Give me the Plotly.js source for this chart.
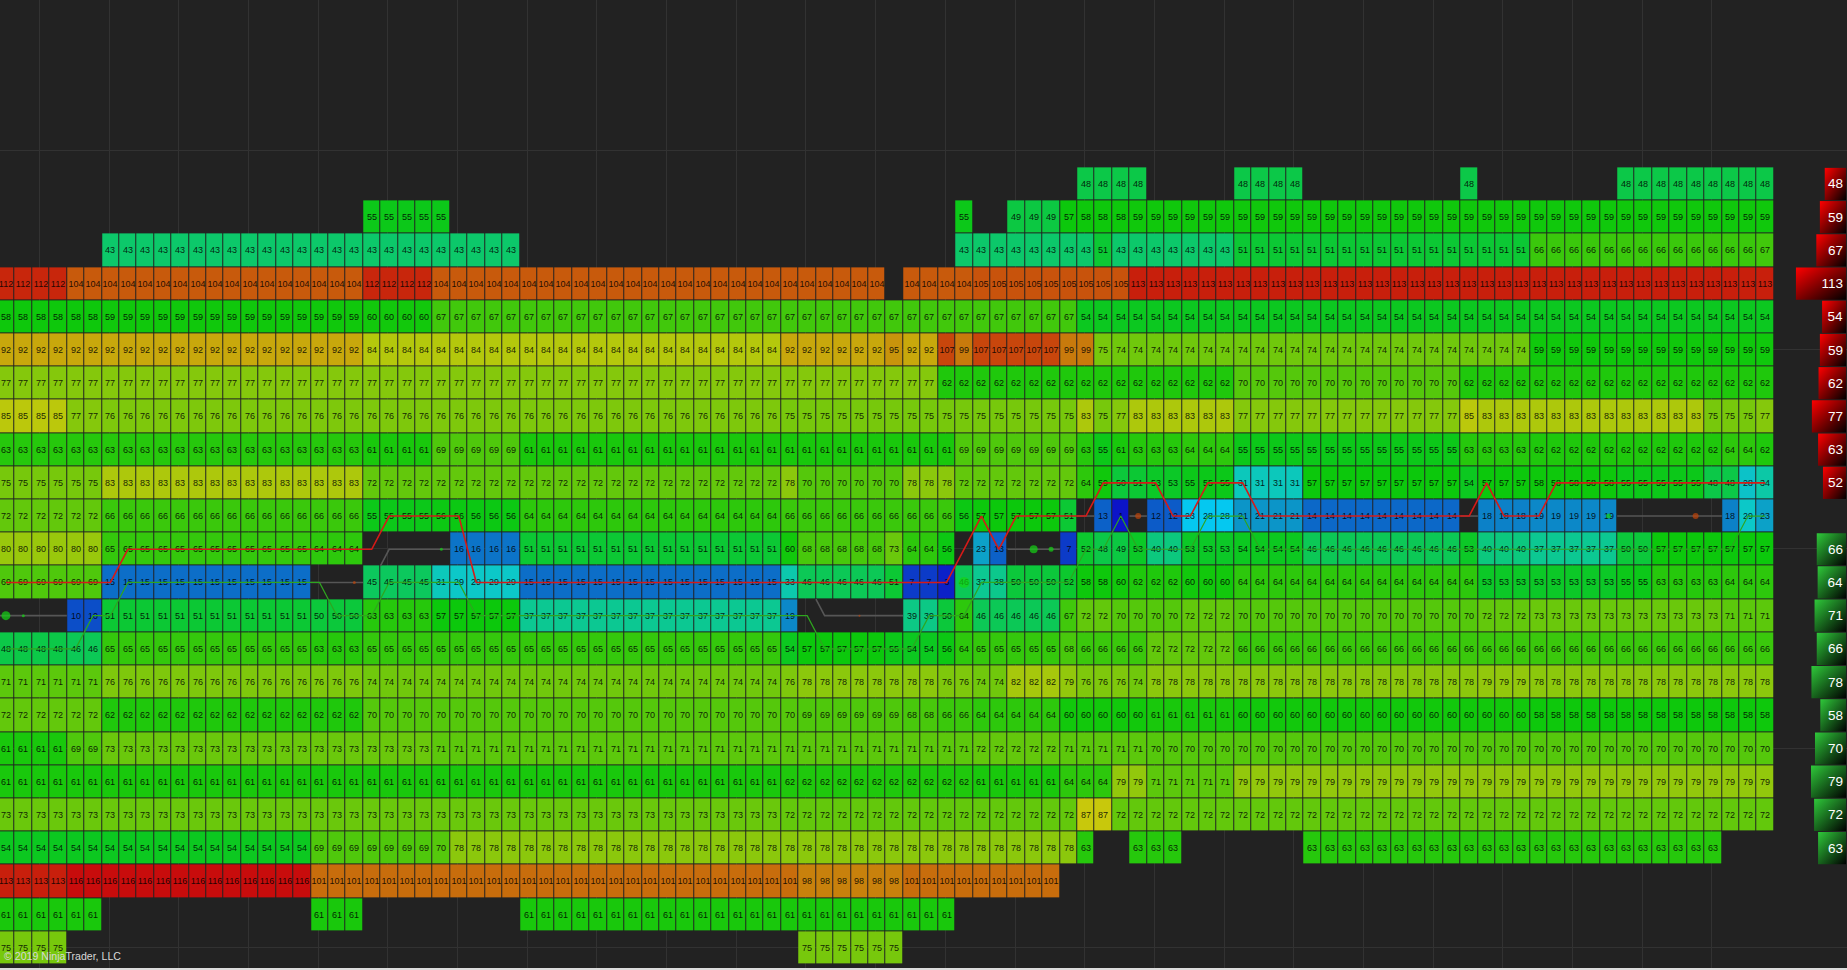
<!DOCTYPE html>
<html>
<head>
<meta charset="utf-8">
<script src="https://cdn.plot.ly/plotly-3.0.1.min.js"></script>
<style>html,body{margin:0;padding:0;background:#222222;overflow:hidden}</style>
</head>
<body>
<div id="chart" style="width:1847px;height:970px"></div>
<script>
// Each row: runs of [value, first column, last column]
const row00=[[48,62,65],[48,71,74],[48,84,84],[48,93,101]];
const row01=[[55,21,25],[55,55,55],[49,58,60],[57,61,61],[58,62,64],[59,65,101]];
const row02=[[43,6,29],[43,55,62],[51,63,63],[43,64,70],[51,71,87],[66,88,100],[67,101,101]];
const row03=[[112,0,3],[104,4,20],[112,21,24],[104,25,50],[104,52,55],[105,56,64],[113,65,101]];
const row04=[[58,0,5],[59,6,20],[60,21,24],[67,25,61],[54,62,101]];
const row05=[[92,0,20],[84,21,44],[92,45,50],[95,51,51],[92,52,53],[107,54,54],[99,55,55],[107,56,60],[99,61,62],[75,63,63],[74,64,87],[59,88,101]];
const row06=[[77,0,53],[62,54,70],[70,71,83],[62,84,101]];
const row07=[[85,0,3],[77,4,5],[76,6,44],[75,45,61],[83,62,62],[75,63,63],[77,64,64],[83,65,70],[77,71,83],[85,84,84],[83,85,97],[75,98,100],[77,101,101]];
const row08=[[63,0,20],[61,21,24],[69,25,29],[61,30,54],[69,55,61],[63,62,62],[55,63,63],[61,64,64],[63,65,67],[64,68,70],[55,71,83],[63,84,87],[62,88,98],[64,99,100],[62,101,101]];
const row09=[[75,0,5],[83,6,20],[72,21,44],[78,45,45],[70,46,51],[78,52,54],[72,55,61],[64,62,62],[59,63,63],[50,64,64],[51,65,65],[53,66,67],[55,68,70],[31,71,74],[57,75,83],[54,84,84],[57,85,87],[58,88,92],[55,93,97],[48,98,99],[28,100,100],[34,101,101]];
const row10=[[72,0,5],[66,6,20],[55,21,24],[56,25,29],[64,30,44],[66,45,54],[56,55,55],[57,56,60],[51,61,61],[13,63,63],[1,64,64],[12,66,67],[23,68,68],[28,69,70],[21,71,74],[14,75,83],[18,85,87],[19,88,92],[18,99,99],[29,100,100],[23,101,101]];
const row11=[[80,0,5],[65,6,17],[64,18,20],[16,26,29],[51,30,44],[60,45,45],[68,46,50],[73,51,51],[64,52,53],[56,54,54],[23,56,56],[13,57,57],[7,61,61],[52,62,62],[48,63,63],[49,64,64],[53,65,65],[40,66,67],[53,68,70],[54,71,74],[46,75,83],[53,84,84],[40,85,87],[37,88,92],[50,93,94],[57,95,101]];
const row12=[[69,0,5],[15,6,17],[45,21,24],[31,25,25],[29,26,29],[15,30,44],[33,45,45],[46,46,50],[51,51,51],[7,52,53],[3,54,54],[46,55,55],[37,56,56],[38,57,57],[50,58,60],[52,61,61],[58,62,63],[60,64,64],[62,65,67],[60,68,70],[64,71,84],[53,85,92],[55,93,94],[63,95,98],[64,99,101]];
const row13=[[10,4,5],[51,6,17],[50,18,20],[63,21,24],[57,25,29],[37,30,44],[19,45,45],[39,52,53],[50,54,54],[64,55,55],[46,56,60],[67,61,61],[72,62,63],[70,64,67],[72,68,70],[70,71,84],[72,85,87],[73,88,98],[71,99,101]];
const row14=[[48,0,3],[46,4,5],[65,6,17],[63,18,20],[65,21,44],[54,45,45],[57,46,50],[55,51,51],[54,52,53],[56,54,54],[64,55,55],[65,56,60],[68,61,61],[66,62,65],[72,66,70],[66,71,101]];
const row15=[[71,0,5],[76,6,20],[74,21,44],[76,45,45],[78,46,53],[76,54,55],[74,56,57],[82,58,60],[79,61,61],[76,62,64],[74,65,65],[78,66,84],[79,85,87],[78,88,101]];
const row16=[[72,0,5],[62,6,20],[70,21,45],[69,46,51],[68,52,53],[66,54,55],[64,56,60],[60,61,65],[61,66,70],[60,71,87],[58,88,101]];
const row17=[[61,0,3],[69,4,5],[73,6,24],[71,25,55],[72,56,60],[71,61,65],[70,66,101]];
const row18=[[61,0,44],[62,45,55],[61,56,60],[64,61,63],[79,64,65],[71,66,70],[79,71,101]];
const row19=[[73,0,44],[72,45,61],[87,62,63],[72,64,101]];
const row20=[[54,0,17],[69,18,24],[70,25,25],[78,26,61],[63,62,62],[63,65,67],[63,75,98]];
const row21=[[113,0,3],[116,4,17],[101,18,45],[98,46,51],[101,52,60]];
const row22=[[61,0,5],[61,18,20],[61,30,54]];
const row23=[[75,0,3],[75,46,51]];
const allRows=[row00,row01,row02,row03,row04,row05,row06,row07,row08,row09,row10,row11,row12,row13,row14,row15,row16,row17,row18,row19,row20,row21,row22,row23];
const columnCount=102;

// Highlighted (bright cyan) cells: [row, column]
const brightCells=[[10,68],[10,69],[10,70]];

// Line series: row position per column
const redRuns=[[12,7],[11,15],[10,5],[12,28],[11,1],[10,1],[11,1],[10,5],[9,4],[10,2],[9,3],[10,13],[9,1],[10,3],[9,13]];
const greenRuns=[[14,5],[13,2],[12,12],[13,3],[12,5],[13,20],[14,6],[13,3],[12,6],[11,2],[10,1],[11,4],[10,3],[11,28],[10,2]];

// Grey line visible only in the empty cells
const grayCols=[-0.34,3.5,null,17.5,20.5,null,21.5,22,25.5,null,46.5,47,51.5,null,57.5,60.5,null,61.5,62.5,null,64.5,65.5,null,83.5,84.5,null,92.5,98.5];
const grayRows=[13,13,null,12,12,null,11.5,11,11,null,12.5,13,13,null,11,11,null,10,10,null,10,10,null,10,10,null,10,10];

// Trade dots
const greenDotCols=[0,1,25,55,59,60,92];
const greenDotRows=[13,13,11,12,11,11,10];
const greenDotSizes=[9,3,3,11,8,5,5];
const orangeDotCols=[20,49,65,97];
const orangeDotRows=[12,13,10,10];
const orangeDotSizes=[3,2,6,6];

// Right-hand totals
const askRows=[0,1,2,3,4,5,6,7,8,9];
const askTotals=[48,59,67,113,54,59,62,77,63,52];
const bidRows=[11,12,13,14,15,16,17,18,19,20];
const bidTotals=[66,64,71,66,78,58,70,79,72,63];

// Colour ramp: value, colour
const rampValues=[1,29,57,60,87,116,124,125];
const rampColors=['#0c14c8','#0cc8c8','#0cc80c','#12c80c','#c8c80c','#c80c0c','#c80c0c','#05c8f0'];

const zMin=rampValues[0], zMax=rampValues[rampValues.length-1];
const colorscale=rampValues.map((v,i)=>[(v-zMin)/(zMax-zMin),rampColors[i]]);

const z=[], labels=[];
allRows.forEach(runs=>{
  const zr=new Array(columnCount).fill(null), tr=new Array(columnCount).fill('');
  runs.forEach(([v,a,b])=>{for(let c=a;c<=b;c++){zr[c]=v;tr[c]=String(v);}});
  z.push(zr);labels.push(tr);
});
brightCells.forEach(([r,c])=>{z[r][c]=zMax;});

const expand=runs=>{const o=[];runs.forEach(([v,n])=>{for(let i=0;i<n;i++)o.push(v);});return o;};
const cols=Array.from({length:columnCount},(_,i)=>i);
const gridCols=[1.93,5.93,9.93,13.93,17.93,21.93,25.93,29.93,33.93,37.93,41.93,45.93,49.93,53.93,57.93,61.93,65.93,69.93,73.93,77.93,81.93,85.93,89.93,93.93,97.93];
const gridRows=[-1.02,4.97,10.99,16.99,22.98];

const sans='"Liberation Sans",Arial,sans-serif';

const traces=[
 {type:'heatmap',z:z,text:labels,texttemplate:'%{text}',textfont:{family:sans,size:9,color:'rgba(0,0,0,0.85)'},
  xgap:1,ygap:1,colorscale:colorscale,zmin:zMin,zmax:zMax,showscale:false,hoverinfo:'skip'},
 {type:'scatter',mode:'lines',x:grayCols,y:grayRows,line:{color:'#565656',width:1.6},hoverinfo:'skip',showlegend:false},
 {type:'scatter',mode:'lines',x:cols,y:expand(greenRuns),line:{color:'#2fa51f',width:1.2},hoverinfo:'skip',showlegend:false},
 {type:'scatter',mode:'lines',x:cols,y:expand(redRuns),line:{color:'#d61a18',width:1.6},hoverinfo:'skip',showlegend:false},
 {type:'scatter',mode:'markers',x:greenDotCols,y:greenDotRows,marker:{color:'#14d414',size:greenDotSizes,line:{width:0}},hoverinfo:'skip',showlegend:false},
 {type:'scatter',mode:'markers',x:orangeDotCols,y:orangeDotRows,marker:{color:'#c04408',size:orangeDotSizes,line:{width:0}},hoverinfo:'skip',showlegend:false},
 {type:'bar',orientation:'h',xaxis:'x2',y:askRows,x:askTotals,width:0.97,text:askTotals.map(String),textposition:'inside',insidetextanchor:'start',textangle:0,constraintext:'none',
  textfont:{family:sans,size:13.5,color:'#ffffff'},marker:{color:'#cc0000',line:{width:0}},hoverinfo:'skip',showlegend:false},
 {type:'bar',orientation:'h',xaxis:'x2',y:bidRows,x:bidTotals,width:0.97,text:bidTotals.map(String),textposition:'inside',insidetextanchor:'start',textangle:0,constraintext:'none',
  textfont:{family:sans,size:13.5,color:'#ffffff'},marker:{color:'#1c8c1c',line:{width:0}},hoverinfo:'skip',showlegend:false}
];

const layout={
 width:1847,height:970,margin:{l:0,r:0,t:0,b:0,pad:0},
 paper_bgcolor:'#222222',plot_bgcolor:'#222222',showlegend:false,barmode:'overlay',
 xaxis:{range:[-0.339,105.69],tickmode:'array',tickvals:gridCols,showticklabels:false,ticks:'',showgrid:true,gridcolor:'#323232',gridwidth:1,zeroline:false,showline:false},
 xaxis2:{overlaying:'x',anchor:'y',range:[4167,-2.26],showgrid:false,showticklabels:false,ticks:'',zeroline:false,showline:false},
 yaxis:{range:[23.67,-5.54],tickmode:'array',tickvals:gridRows,showticklabels:false,ticks:'',showgrid:true,gridcolor:'#323232',gridwidth:1,zeroline:false,showline:false},
 shapes:[{type:'rect',xref:'paper',yref:'paper',x0:0,x1:1,y0:0,y1:0.002,fillcolor:'#dcdcdc',line:{width:0}}],
 annotations:[{xref:'paper',yref:'paper',x:0.0012,y:0.0145,xanchor:'left',yanchor:'middle',showarrow:false,
   text:'© 2019 NinjaTrader, LLC',font:{family:sans,size:10.6,color:'#d8d8d8'}}]
};

Plotly.newPlot('chart',traces,layout,{staticPlot:true,displayModeBar:false}).then(()=>{
  const svg=document.querySelector('#chart .main-svg');
  const ns='http://www.w3.org/2000/svg';
  const defs=document.createElementNS(ns,'defs');
  const mk=(id,c)=>{
    const g=document.createElementNS(ns,'linearGradient');
    g.setAttribute('id',id);g.setAttribute('x1','0');g.setAttribute('y1','0');g.setAttribute('x2','1');g.setAttribute('y2','1');
    [['0%',c],['100%','#000000']].forEach(([o,col])=>{const s=document.createElementNS(ns,'stop');s.setAttribute('offset',o);s.setAttribute('stop-color',col);g.appendChild(s);});
    defs.appendChild(g);
  };
  mk('gradAsk','#ff0000');mk('gradBid','#2fc93a');
  svg.insertBefore(defs,svg.firstChild);
  document.querySelectorAll('#chart .barlayer .trace.bars').forEach((t,i)=>{
    t.querySelectorAll('.point path').forEach(p=>{p.style.fill='url(#'+(i===0?'gradAsk':'gradBid')+')';p.style.fillOpacity=1;});
  });
});
</script>
</body>
</html>
